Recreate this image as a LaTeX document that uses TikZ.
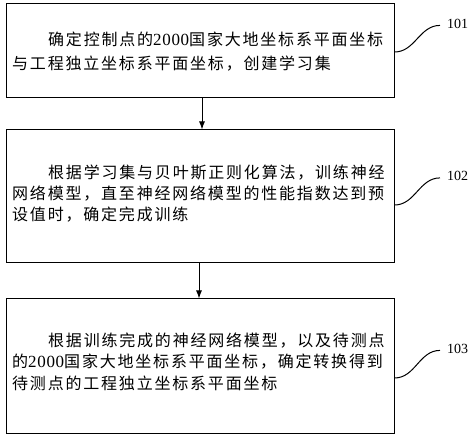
\documentclass[tikz,border=0pt]{standalone}
\usepackage{fontspec}
\setmainfont{Liberation Serif}
\newfontfamily\cjk[LetterSpace=11.25]{Noto Sans CJK SC}
\newfontfamily\dg[LetterSpace=4]{Liberation Serif}
\usetikzlibrary{arrows.meta}
\newcommand{\num}[1]{{\fontsize{17pt}{17pt}\dg #1}}
\begin{document}
\begin{tikzpicture}[x=1pt,y=-1pt,
  box/.style={draw, line width=1pt, inner sep=0pt},
  txt/.style={anchor=base west, inner sep=0pt, font=\fontsize{16pt}{16pt}\cjk},
  lab/.style={anchor=base west, inner sep=0pt, font=\fontsize{14pt}{14pt}\selectfont},
  conn/.style={line width=1pt, -{Latex[length=8pt,width=6pt]}},
  lead/.style={line width=1pt}]
\useasboundingbox (0,0) rectangle (474,438);
% boxes
\node[box, minimum width=388pt, minimum height=94pt] (b1) at (200,51) {};
\node[box, minimum width=388pt, minimum height=133pt] (b2) at (200,196.5) {};
\node[box, minimum width=388pt, minimum height=134pt] (b3) at (200,366) {};
% texts box 1
\node[txt] (t1a) at (48,46) {确定控制点的\num{2000}国家大地坐标系平面坐标};
\node[txt] (t1b) at (12,70) {与工程独立坐标系平面坐标，创建学习集};
% texts box 2
\node[txt] (t2a) at (48,179) {根据学习集与贝叶斯正则化算法，训练神经};
\node[txt] (t2b) at (12,199.5) {网络模型，直至神经网络模型的性能指数达到预};
\node[txt] (t2c) at (12,221) {设值时，确定完成训练};
% texts box 3
\node[txt] (t3a) at (48,346) {根据训练完成的神经网络模型，以及待测点};
\node[txt] (t3b) at (12,367.5) {的\num{2000}国家大地坐标系平面坐标，确定转换得到};
\node[txt] (t3c) at (12,389.3) {待测点的工程独立坐标系平面坐标};
% labels
\node[lab] (l1) at (447,28.5) {101};
\node[lab] (l2) at (447,180.5) {102};
\node[lab] (l3) at (447,353) {103};
% connectors
\draw[conn] ([xshift=2pt]b1.south) -- ([xshift=2pt]b2.north);
\draw[conn] ([xshift=-1pt]b2.south) -- ([xshift=-1pt]b3.north);
% leader curves
\draw[lead] ([yshift=-1pt]b1.east) to[out=0,in=180] ([xshift=-7pt,yshift=-1.5pt]l1.west);
\draw[lead] ([yshift=-8.5pt]b2.east) to[out=0,in=180] ([xshift=-7pt,yshift=-2pt]l2.west);
\draw[lead] ([yshift=-12pt]b3.east) to[out=0,in=180] ([xshift=-7pt,yshift=-2pt]l3.west);
\end{tikzpicture}
\end{document}
